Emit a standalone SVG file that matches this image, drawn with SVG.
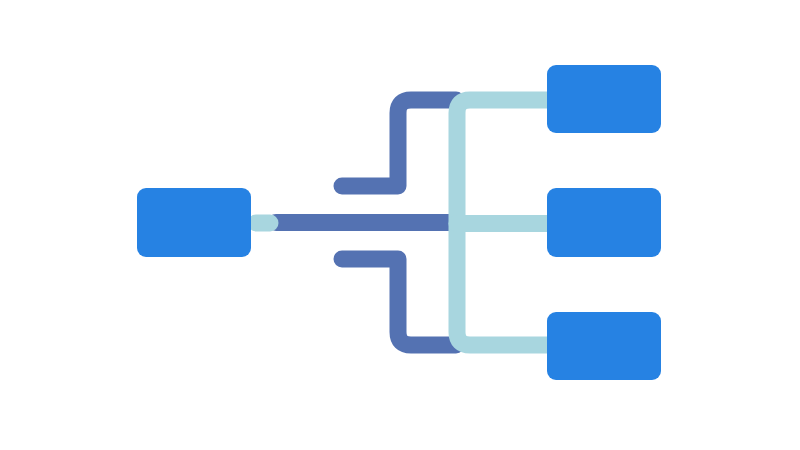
<svg xmlns="http://www.w3.org/2000/svg" width="800" height="450" viewBox="0 0 800 450">
<style>
.dark{fill:none;stroke:#5472b2;stroke-width:17;stroke-linecap:round;stroke-linejoin:round}
.light{fill:none;stroke:#a8d6df;stroke-width:17;stroke-linecap:round;stroke-linejoin:round}
.node{fill:#2682e3}
</style>
<rect width="800" height="450" fill="#ffffff"/>
<g id="connectors">
<path class="dark" d="M 276 222.5 H 452"/>
<path class="dark" d="M 342 186 H 398 V 113 Q 398 100 411 100 H 456"/>
<path class="dark" d="M 342 259 H 398 V 332 Q 398 345 411 345 H 456"/>
<path class="light" d="M 256 223 H 270"/>
<path class="light" d="M 550 100 H 470 Q 457 100 457 113 V 332 Q 457 345 470 345 H 550"/>
<path class="light" d="M 457 223.5 H 550"/>
</g>
<g id="node-left"><rect class="node" x="137" y="188" width="114" height="69" rx="9"/></g>
<g id="node-top"><rect class="node" x="547" y="65" width="114" height="68" rx="9"/></g>
<g id="node-middle"><rect class="node" x="547" y="188" width="114" height="69" rx="9"/></g>
<g id="node-bottom"><rect class="node" x="547" y="312" width="114" height="68" rx="9"/></g>
</svg>
